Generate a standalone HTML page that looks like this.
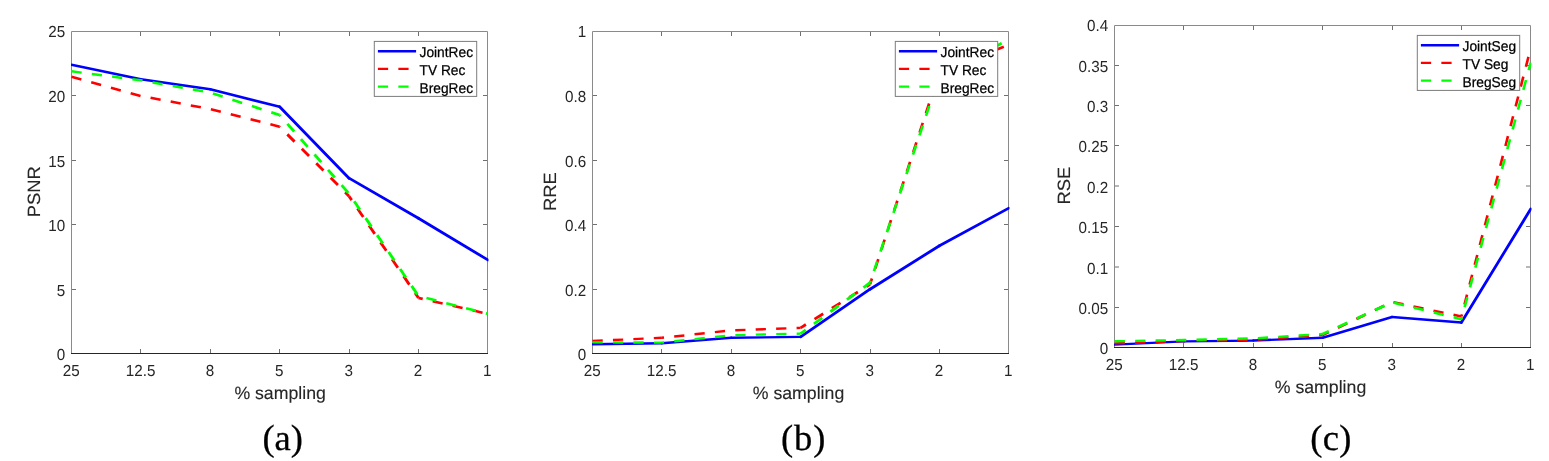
<!DOCTYPE html>
<html lang="en"><head><meta charset="utf-8">
<title>PSNR, RRE and RSE versus % sampling</title>
<style>
html,body{margin:0;padding:0;background:#fff;}
body{width:1549px;height:461px;overflow:hidden;}
svg{display:block;}
text{text-rendering:geometricPrecision;}
.t{font-family:"Liberation Sans", Arial, Helvetica, sans-serif;font-size:16.0px;fill:#262626;}
.l{font-family:"Liberation Sans", Arial, Helvetica, sans-serif;font-size:17.8px;fill:#262626;stroke:#262626;stroke-width:0.12px;}
.g{font-family:"Liberation Sans", Arial, Helvetica, sans-serif;font-size:14.2px;fill:#000;stroke:#000;stroke-width:0.25px;}
.c{font-family:"Liberation Serif", "Times New Roman", Times, serif;font-size:36.5px;fill:#000;stroke:#000;stroke-width:0.3px;}
.ln{fill:none;stroke-width:2.35;stroke-linejoin:round;stroke-linecap:butt;}
.s{stroke-linecap:round;}
.d{stroke-dasharray:10.23 10.23;}
.ax{fill:none;stroke-width:1;}
</style></head><body>
<svg width="1549" height="461" viewBox="0 0 1549 461">
<rect width="1549" height="461" fill="#fff"/>
<g id="plot-a">
<path class="ax" d="M140.5 353v-4M140.5 32v4M210.5 353v-4M210.5 32v4M279.5 353v-4M279.5 32v4M349.5 353v-4M349.5 32v4M418.5 353v-4M418.5 32v4M72 289.5h4M487 289.5h-4M72 224.5h4M487 224.5h-4M72 160.5h4M487 160.5h-4M72 95.5h4M487 95.5h-4" stroke="#707070"/>
<path class="ax" d="M71.5 353.5V31.5H487.5V353.5" stroke="#8a8a8a"/>
<path class="ax" d="M71 353.5H488" stroke="#262626"/>
<clipPath id="cp0"><rect x="71" y="30.5" width="417.5" height="324"/></clipPath>
<g clip-path="url(#cp0)">
<g class="ln s" stroke="#0000ff">
<path d="M71.5 64.87L140.88 79.16" stroke-width="2.55"/>
<path d="M140.88 79.16L210.27 89.33" stroke-width="2.5"/>
<path d="M210.27 89.33L279.65 106.84" stroke-width="2.6"/>
<path d="M279.65 106.84L349.03 178.16" stroke-width="2.87"/>
<path d="M349.03 178.16L418.42 218.2" stroke-width="2.8"/>
<path d="M418.42 218.2L487.8 259.91" stroke-width="2.81"/>
</g>
<g class="ln d" stroke="#ff0000">
<path d="M71.5 76.85L140.88 96.03" stroke-width="2.62"/>
<path d="M140.88 96.03L210.27 109.03" stroke-width="2.54" stroke-dashoffset="10.61"/>
<path d="M210.27 109.03L279.65 126.67" stroke-width="2.6" stroke-dashoffset="19.82"/>
<path d="M279.65 126.67L349.03 196.19" stroke-width="2.87" stroke-dashoffset="9.57"/>
<path d="M349.03 196.19L418.42 297.89" stroke-width="2.83" stroke-dashoffset="5.49"/>
<path d="M418.42 297.89L487.8 313.86" stroke-width="2.58" stroke-dashoffset="5.84"/>
</g>
<g class="ln d" stroke="#00ff00">
<path d="M71.5 71.31L140.88 80.32" stroke-width="2.48"/>
<path d="M140.88 80.32L210.27 92.55" stroke-width="2.53" stroke-dashoffset="8.59"/>
<path d="M210.27 92.55L279.65 115.08" stroke-width="2.65" stroke-dashoffset="17.66"/>
<path d="M279.65 115.08L349.03 193.61" stroke-width="2.86" stroke-dashoffset="8.77"/>
<path d="M349.03 193.61L418.42 295.96" stroke-width="2.83" stroke-dashoffset="11.26"/>
<path d="M418.42 295.96L487.8 313.86" stroke-width="2.6" stroke-dashoffset="12.15"/>
</g>
</g>
<text class="t" transform="translate(71.3 376) scale(0.95 1)" text-anchor="middle">25</text>
<text class="t" transform="translate(140.63 376) scale(0.95 1)" text-anchor="middle">12.5</text>
<text class="t" transform="translate(209.97 376) scale(0.95 1)" text-anchor="middle">8</text>
<text class="t" transform="translate(279.3 376) scale(0.95 1)" text-anchor="middle">5</text>
<text class="t" transform="translate(348.63 376) scale(0.95 1)" text-anchor="middle">3</text>
<text class="t" transform="translate(417.97 376) scale(0.95 1)" text-anchor="middle">2</text>
<text class="t" transform="translate(487.3 376) scale(0.95 1)" text-anchor="middle">1</text>
<text class="t" transform="translate(65.2 360) scale(0.95 1)" text-anchor="end">0</text>
<text class="t" transform="translate(65.2 296) scale(0.95 1)" text-anchor="end">5</text>
<text class="t" transform="translate(65.2 231) scale(0.95 1)" text-anchor="end">10</text>
<text class="t" transform="translate(65.2 167) scale(0.95 1)" text-anchor="end">15</text>
<text class="t" transform="translate(65.2 102) scale(0.95 1)" text-anchor="end">20</text>
<text class="t" transform="translate(65.2 37) scale(0.95 1)" text-anchor="end">25</text>
<text class="l" transform="translate(280.1 399.3) scale(0.995 1)" text-anchor="middle">% sampling</text>
<text class="l" transform="translate(39.65 191.7) rotate(-90) scale(1.03 1)" text-anchor="middle">PSNR</text>
<rect x="374.3" y="41.4" width="102.4" height="55" fill="#fff" stroke="#7c7c7c" stroke-width="1"/>
<path class="ln" stroke="#0000ff" d="M377.9 51.2h38.2"/>
<text class="g" transform="translate(419.5 57.2) scale(0.97 1)">JointRec</text>
<path class="ln d" stroke="#ff0000" d="M377.9 68.9h38.2"/>
<text class="g" transform="translate(419.5 74.9) scale(0.97 1)">TV Rec</text>
<path class="ln d" stroke="#00ff00" d="M377.9 86.6h38.2"/>
<text class="g" transform="translate(419.5 92.6) scale(0.97 1)">BregRec</text>
<text class="c" transform="translate(282.7 450)" text-anchor="middle">(a)</text>
</g>
<g id="plot-b">
<path class="ax" d="M661.5 353v-4M661.5 32v4M731.5 353v-4M731.5 32v4M800.5 353v-4M800.5 32v4M870.5 353v-4M870.5 32v4M939.5 353v-4M939.5 32v4M593 289.5h4M1008 289.5h-4M593 224.5h4M1008 224.5h-4M593 160.5h4M1008 160.5h-4M593 95.5h4M1008 95.5h-4" stroke="#707070"/>
<path class="ax" d="M592.5 353.5V31.5H1008.5V353.5" stroke="#8a8a8a"/>
<path class="ax" d="M592 353.5H1009" stroke="#262626"/>
<clipPath id="cp1"><rect x="592" y="30.5" width="417.5" height="324"/></clipPath>
<g clip-path="url(#cp1)">
<g class="ln s" stroke="#0000ff">
<path d="M592.5 344.24L661.88 343.27" stroke-width="2.36"/>
<path d="M661.88 343.27L731.27 337.8" stroke-width="2.43"/>
<path d="M731.27 337.8L800.65 336.84" stroke-width="2.36"/>
<path d="M800.65 336.84L870.03 289.2" stroke-width="2.83"/>
<path d="M870.03 289.2L939.42 245.75" stroke-width="2.82"/>
<path d="M939.42 245.75L1008.8 208.1" stroke-width="2.78"/>
</g>
<g class="ln d" stroke="#ff0000">
<path d="M592.5 341.02L661.88 337.8" stroke-width="2.4"/>
<path d="M661.88 337.8L731.27 330.4" stroke-width="2.46" stroke-dashoffset="8.08"/>
<path d="M731.27 330.4L800.65 327.82" stroke-width="2.39" stroke-dashoffset="16.48"/>
<path d="M800.65 327.82L870.03 284.37" stroke-width="2.82" stroke-dashoffset="4.07"/>
<path d="M870.03 284.37L939.42 71.95" stroke-width="2.66" stroke-dashoffset="4.09"/>
<path d="M939.42 71.95L1008.8 44.92" stroke-width="2.7" stroke-dashoffset="2.5"/>
</g>
<g class="ln d" stroke="#00ff00">
<path d="M592.5 342.31L661.88 342.63" stroke-width="2.35"/>
<path d="M661.88 342.63L731.27 335.23" stroke-width="2.46" stroke-dashoffset="8"/>
<path d="M731.27 335.23L800.65 333.62" stroke-width="2.37" stroke-dashoffset="16.4"/>
<path d="M800.65 333.62L870.03 282.76" stroke-width="2.84" stroke-dashoffset="3.96"/>
<path d="M870.03 282.76L939.42 75.82" stroke-width="2.66" stroke-dashoffset="8.15"/>
<path d="M939.42 75.82L1008.8 39.45" stroke-width="2.78" stroke-dashoffset="1.36"/>
</g>
</g>
<text class="t" transform="translate(592.3 376) scale(0.95 1)" text-anchor="middle">25</text>
<text class="t" transform="translate(661.63 376) scale(0.95 1)" text-anchor="middle">12.5</text>
<text class="t" transform="translate(730.97 376) scale(0.95 1)" text-anchor="middle">8</text>
<text class="t" transform="translate(800.3 376) scale(0.95 1)" text-anchor="middle">5</text>
<text class="t" transform="translate(869.63 376) scale(0.95 1)" text-anchor="middle">3</text>
<text class="t" transform="translate(938.97 376) scale(0.95 1)" text-anchor="middle">2</text>
<text class="t" transform="translate(1008.3 376) scale(0.95 1)" text-anchor="middle">1</text>
<text class="t" transform="translate(586.2 360) scale(0.95 1)" text-anchor="end">0</text>
<text class="t" transform="translate(586.2 296) scale(0.95 1)" text-anchor="end">0.2</text>
<text class="t" transform="translate(586.2 231) scale(0.95 1)" text-anchor="end">0.4</text>
<text class="t" transform="translate(586.2 167) scale(0.95 1)" text-anchor="end">0.6</text>
<text class="t" transform="translate(586.2 102) scale(0.95 1)" text-anchor="end">0.8</text>
<text class="t" transform="translate(586.2 37) scale(0.95 1)" text-anchor="end">1</text>
<text class="l" transform="translate(798.5 399.3) scale(0.995 1)" text-anchor="middle">% sampling</text>
<text class="l" transform="translate(556.3 191.7) rotate(-90) scale(1.03 1)" text-anchor="middle">RRE</text>
<rect x="895.3" y="41.4" width="102.4" height="55" fill="#fff" stroke="#7c7c7c" stroke-width="1"/>
<path class="ln" stroke="#0000ff" d="M898.9 51.2h38.2"/>
<text class="g" transform="translate(940.5 57.2) scale(0.97 1)">JointRec</text>
<path class="ln d" stroke="#ff0000" d="M898.9 68.9h38.2"/>
<text class="g" transform="translate(940.5 74.9) scale(0.97 1)">TV Rec</text>
<path class="ln d" stroke="#00ff00" d="M898.9 86.6h38.2"/>
<text class="g" transform="translate(940.5 92.6) scale(0.97 1)">BregRec</text>
<text class="c" transform="translate(803.7 450)" text-anchor="middle" letter-spacing="1.0">(b)</text>
</g>
<g id="plot-c">
<path class="ax" d="M1183.5 347v-4M1183.5 26v4M1253.5 347v-4M1253.5 26v4M1322.5 347v-4M1322.5 26v4M1392.5 347v-4M1392.5 26v4M1461.5 347v-4M1461.5 26v4M1115 307.5h4M1530 307.5h-4M1115 267h4M1530 267h-4M1115 226.5h4M1530 226.5h-4M1115 186h4M1530 186h-4M1115 145.5h4M1530 145.5h-4M1115 105.5h4M1530 105.5h-4M1115 65.5h4M1530 65.5h-4" stroke="#707070"/>
<path class="ax" d="M1114.5 347.5V25.5H1530.5V347.5" stroke="#8a8a8a"/>
<path class="ax" d="M1114 347.5H1531" stroke="#262626"/>
<clipPath id="cp2"><rect x="1114" y="24.5" width="417.5" height="324"/></clipPath>
<g clip-path="url(#cp2)">
<g class="ln s" stroke="#0000ff">
<path d="M1114.7 344.66L1184.03 341.37" stroke-width="2.4"/>
<path d="M1184.03 341.37L1253.37 340.56" stroke-width="2.36"/>
<path d="M1253.37 340.56L1322.7 337.75" stroke-width="2.39"/>
<path d="M1322.7 337.75L1392.03 316.99" stroke-width="2.63"/>
<path d="M1392.03 316.99L1461.37 322.54" stroke-width="2.43"/>
<path d="M1461.37 322.54L1530.7 209.03" stroke-width="2.81"/>
</g>
<g class="ln d" stroke="#ff0000">
<path d="M1114.7 343.38L1184.03 341.04" stroke-width="2.38"/>
<path d="M1184.03 341.04L1253.37 339.84" stroke-width="2.37" stroke-dashoffset="7.99"/>
<path d="M1253.37 339.84L1322.7 334.93" stroke-width="2.42" stroke-dashoffset="15.96"/>
<path d="M1322.7 334.93L1392.03 301.95" stroke-width="2.75" stroke-dashoffset="3.62"/>
<path d="M1392.03 301.95L1461.37 316.51" stroke-width="2.56" stroke-dashoffset="19.02"/>
<path d="M1461.37 316.51L1530.7 48.13" stroke-width="2.6" stroke-dashoffset="8.03"/>
</g>
<g class="ln d" stroke="#00ff00">
<path d="M1114.7 341.29L1184.03 340" stroke-width="2.37"/>
<path d="M1184.03 340L1253.37 338.39" stroke-width="2.37" stroke-dashoffset="7.97"/>
<path d="M1253.37 338.39L1322.7 334.05" stroke-width="2.41" stroke-dashoffset="15.94"/>
<path d="M1322.7 334.05L1392.03 302.35" stroke-width="2.74" stroke-dashoffset="3.57"/>
<path d="M1392.03 302.35L1461.37 319.24" stroke-width="2.59" stroke-dashoffset="18.42"/>
<path d="M1461.37 319.24L1530.7 62.61" stroke-width="2.61" stroke-dashoffset="7.94"/>
</g>
</g>
<text class="t" transform="translate(1114.3 370) scale(0.95 1)" text-anchor="middle">25</text>
<text class="t" transform="translate(1183.63 370) scale(0.95 1)" text-anchor="middle">12.5</text>
<text class="t" transform="translate(1252.97 370) scale(0.95 1)" text-anchor="middle">8</text>
<text class="t" transform="translate(1322.3 370) scale(0.95 1)" text-anchor="middle">5</text>
<text class="t" transform="translate(1391.63 370) scale(0.95 1)" text-anchor="middle">3</text>
<text class="t" transform="translate(1460.97 370) scale(0.95 1)" text-anchor="middle">2</text>
<text class="t" transform="translate(1530.3 370) scale(0.95 1)" text-anchor="middle">1</text>
<text class="t" transform="translate(1108.2 354) scale(0.95 1)" text-anchor="end">0</text>
<text class="t" transform="translate(1108.2 314) scale(0.95 1)" text-anchor="end">0.05</text>
<text class="t" transform="translate(1108.2 274) scale(0.95 1)" text-anchor="end">0.1</text>
<text class="t" transform="translate(1108.2 233) scale(0.95 1)" text-anchor="end">0.15</text>
<text class="t" transform="translate(1108.2 193) scale(0.95 1)" text-anchor="end">0.2</text>
<text class="t" transform="translate(1108.2 152) scale(0.95 1)" text-anchor="end">0.25</text>
<text class="t" transform="translate(1108.2 112) scale(0.95 1)" text-anchor="end">0.3</text>
<text class="t" transform="translate(1108.2 72) scale(0.95 1)" text-anchor="end">0.35</text>
<text class="t" transform="translate(1108.2 31) scale(0.95 1)" text-anchor="end">0.4</text>
<text class="l" transform="translate(1320.5 393.3) scale(0.995 1)" text-anchor="middle">% sampling</text>
<text class="l" transform="translate(1069.5 185.7) rotate(-90) scale(1.03 1)" text-anchor="middle">RSE</text>
<rect x="1417.3" y="35.4" width="102.4" height="55" fill="#fff" stroke="#7c7c7c" stroke-width="1"/>
<path class="ln" stroke="#0000ff" d="M1420.9 45.2h38.2"/>
<text class="g" transform="translate(1462.5 51.2) scale(0.97 1)">JointSeg</text>
<path class="ln d" stroke="#ff0000" d="M1420.9 62.9h38.2"/>
<text class="g" transform="translate(1462.5 68.9) scale(0.97 1)">TV Seg</text>
<path class="ln d" stroke="#00ff00" d="M1420.9 80.6h38.2"/>
<text class="g" transform="translate(1462.5 86.6) scale(0.97 1)">BregSeg</text>
<text class="c" transform="translate(1331 450)" text-anchor="middle" letter-spacing="0.35">(c)</text>
</g>
</svg>
</body></html>
